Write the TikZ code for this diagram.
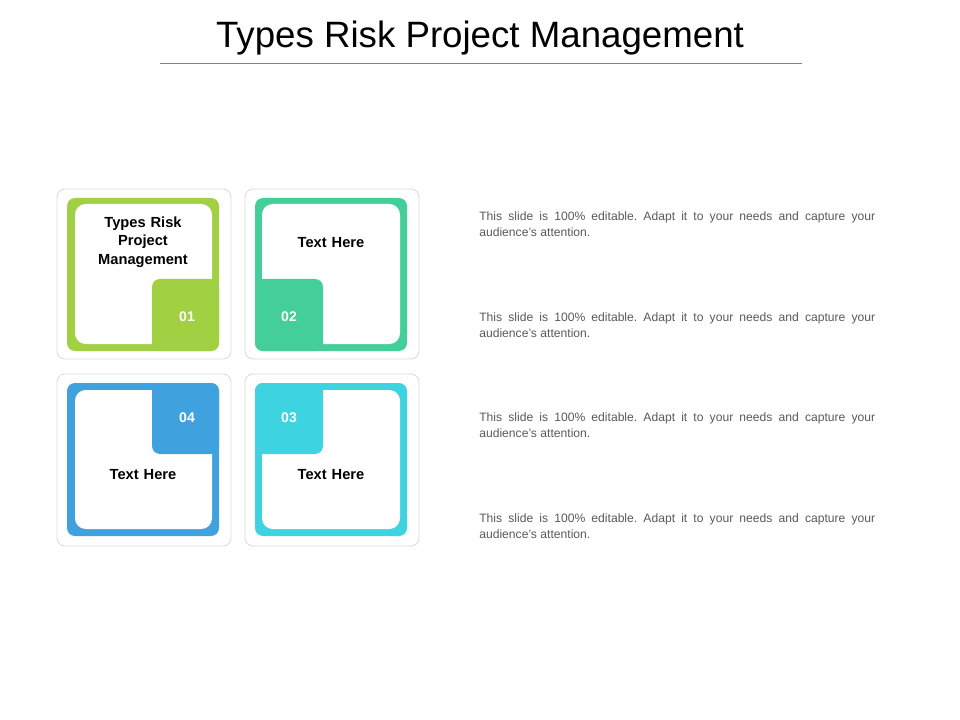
\documentclass[tikz,border=0pt]{standalone}
\usepackage{fontspec}
\setmainfont{Liberation Sans}
\usetikzlibrary{positioning}
\definecolor{cOne}{HTML}{A2D043}
\definecolor{cTwo}{HTML}{44CF9A}
\definecolor{cThree}{HTML}{3DD3E0}
\definecolor{cFour}{HTML}{3FA2DE}
\definecolor{txtgray}{HTML}{595959}
\frenchspacing
\tikzset{
  outerbox/.style={draw=gray!30, rounded corners=6pt, line width=0.6pt},
  numtext/.style={text=white, font=\bfseries\fontsize{10.5}{12}\selectfont},
  tiletext/.style={font=\bfseries\fontsize{11}{14}\selectfont, align=center, text width=95pt},
  desc/.style={text=txtgray, font=\fontsize{9.1}{12}\selectfont, align=justify, text width=297pt, anchor=north west, inner sep=0pt}
}
\begin{document}
\begin{tikzpicture}[x=0.75pt,y=-0.75pt]
\useasboundingbox (0,0) rectangle (960,720);
% Title
\node (title) at (480,38) {\fontsize{27.5}{32}\selectfont Types Risk Project Management};
\draw[gray, line width=0.5pt] (160,63) -- (802,63);

% Outer light boxes
\draw[outerbox] (57,189) rectangle (231,359);
\draw[outerbox] (245,189) rectangle (419,359);
\draw[outerbox] (57,374) rectangle (231,546);
\draw[outerbox] (245,374) rectangle (419,546);

% Tile 01
\fill[cOne, rounded corners=6pt] (67,198) rectangle (219,351);
\fill[white, rounded corners=8pt] (75,204) rectangle (212,344);
\fill[cOne, rounded corners=6pt] (152,279) rectangle (219,351);
\node[numtext] (n1) at (187,317) {01};
\node[tiletext] (t1) at (143,242) {Types Risk\\Project\\Management};

% Tile 02
\fill[cTwo, rounded corners=6pt] (255,198) rectangle (407,351);
\fill[white, rounded corners=8pt] (262,204) rectangle (400,344);
\fill[cTwo, rounded corners=6pt] (255,279) rectangle (323,351);
\node[numtext] (n2) at (289,317) {02};
\node[tiletext] (t2) at (331,243) {Text Here};

% Tile 04
\fill[cFour, rounded corners=6pt] (67,383) rectangle (219,536);
\fill[white, rounded corners=8pt] (75,390) rectangle (212,529);
\fill[cFour, rounded corners=6pt] (152,383) rectangle (219,454);
\node[numtext] (n4) at (187,418) {04};
\node[tiletext] (t4) at (143,475) {Text Here};

% Tile 03
\fill[cThree, rounded corners=6pt] (255,383) rectangle (407,536);
\fill[white, rounded corners=8pt] (262,390) rectangle (400,529);
\fill[cThree, rounded corners=6pt] (255,383) rectangle (323,454);
\node[numtext] (n3) at (289,418) {03};
\node[tiletext] (t3) at (331,475) {Text Here};

% Descriptions
\foreach \y/\nm in {211/d1, 312/d2, 412/d3, 513/d4}
  \node[desc] (\nm) at (479,\y) {This slide is 100\% editable. Adapt it to your needs and capture your\linebreak audience's attention.};
\end{tikzpicture}
\end{document}
